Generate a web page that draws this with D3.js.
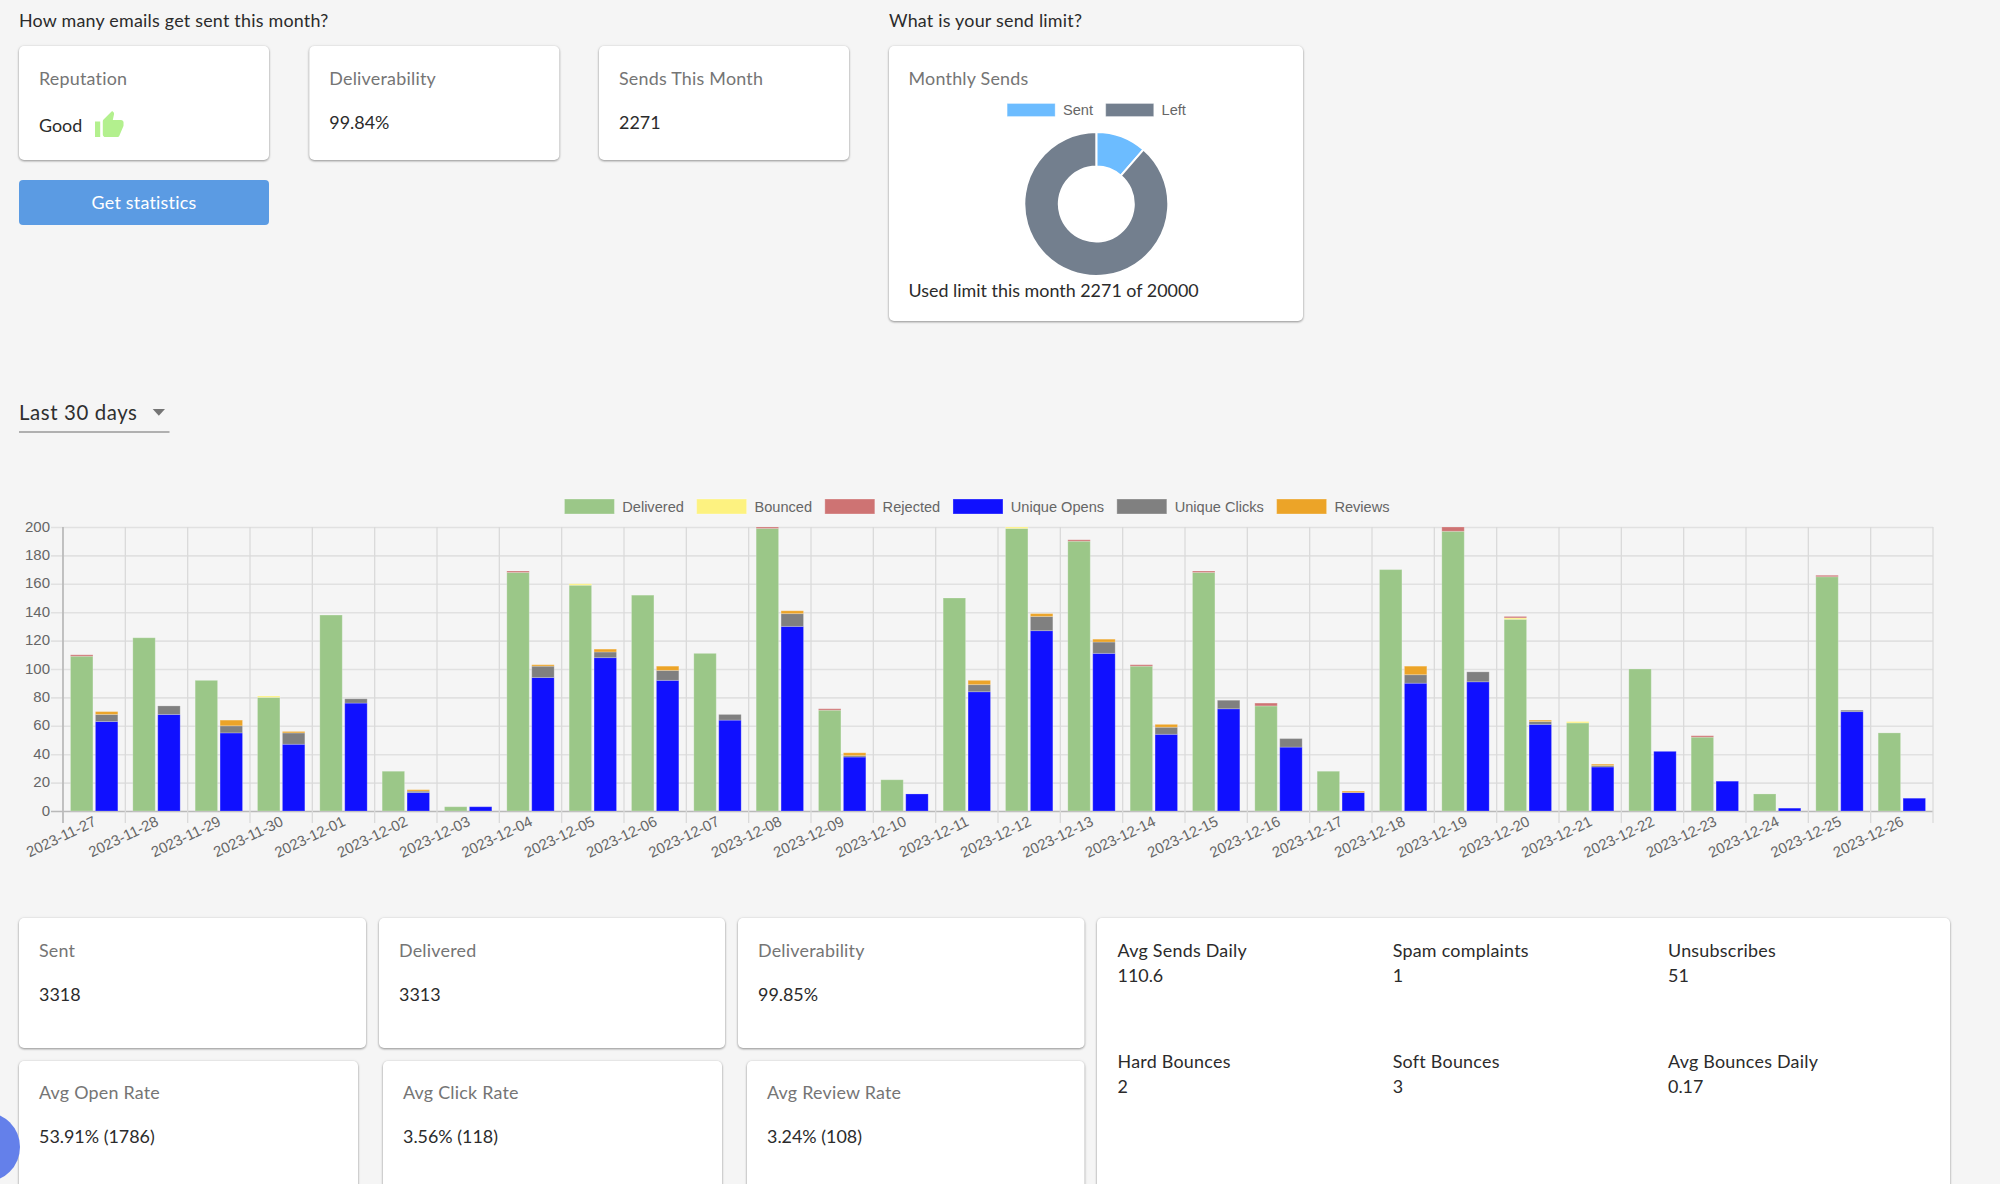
<!DOCTYPE html>
<html><head><meta charset="utf-8">
<style>html,body{margin:0;padding:0;background:#f5f5f5;overflow:hidden}svg{display:block}</style>
<script src="https://cdn.jsdelivr.net/npm/d3@7"></script></head><body>
<svg id="c" width="2000" height="1184"></svg>
<script>
const dates=["2023-11-27","2023-11-28","2023-11-29","2023-11-30","2023-12-01","2023-12-02","2023-12-03","2023-12-04","2023-12-05","2023-12-06","2023-12-07","2023-12-08","2023-12-09","2023-12-10","2023-12-11","2023-12-12","2023-12-13","2023-12-14","2023-12-15","2023-12-16","2023-12-17","2023-12-18","2023-12-19","2023-12-20","2023-12-21","2023-12-22","2023-12-23","2023-12-24","2023-12-25","2023-12-26"];
const delivered=[109,122,92,80,138,28,3,168,159,152,111,199,71,22,150,199,190,102,168,74,28,170,197,135,62,100,52,12,165,55];
const bounced=[0,0,0,1,0,0,0,0,1,0,0,0,0,0,0,1,0,0,0,0,0,0,0,1,1,0,0,0,0,0];
const rejected=[1,0,0,0,0,0,0,1,0,0,0,1,1,0,0,0,1,1,1,2,0,0,3,1,0,0,1,0,1,0];
const uniqueOpens=[63,68,55,47,76,13,3,94,108,92,64,130,38,12,84,127,111,54,72,45,13,90,91,61,31,42,21,2,70,9];
const uniqueClicks=[5,6,5,8,3,1,0,8,4,7,4,9,1,0,5,10,8,5,6,6,0,6,7,2,1,0,0,0,1,0];
const reviews=[2,0,4,1,0,1,0,1,2,3,0,2,2,0,3,2,2,2,0,0,1,6,0,1,1,0,0,0,0,0];
const seriesNames=["Delivered","Bounced","Rejected","Unique Opens","Unique Clicks","Reviews"];
const seriesColors=["#9bc788","#fdf280","#ce7373","#1010ff","#808080","#eca428"];
const donutLabels=["Sent","Left"];
const donutValues=[2271,17729];
const donutColors=["#6cbcff","#737f8e"];
const yTicks=[0,20,40,60,80,100,120,140,160,180,200];

const svg=d3.select("#c");
const UI="Lato, 'Noto Sans', sans-serif", CH="'Liberation Sans', Arial, sans-serif";
const GRAY="#757575", DARK="#2b2b2b";
const txt=(x,y,s,o={})=>svg.append("text").attr("x",x).attr("y",y).attr("dy",".35em")
  .attr("font-family",o.font||UI).attr("font-size",o.size||17.9).attr("fill",o.fill||DARK)
  .attr("letter-spacing",o.ls===undefined?0.22:o.ls).attr("text-anchor",o.anchor||"start").text(s);
const card=(x,y,w,h)=>svg.append("rect").attr("x",x).attr("y",y).attr("width",w).attr("height",h).attr("rx",5)
  .attr("fill","#fff").style("filter","drop-shadow(0 1.5px 1px rgba(0,0,0,.38)) drop-shadow(0 0 1.5px rgba(0,0,0,.08))");

// top section
txt(19,21,"How many emails get sent this month?");
txt(889,21,"What is your send limit?");
[[19,"Reputation","Good"],[309.3,"Deliverability","99.84%"],[599,"Sends This Month","2271"]].forEach(([x,t,v],i)=>{
  card(x,46,250,114);
  txt(x+20,79,t,{fill:GRAY,ls:0.22});
  txt(x+20,i?123:126,v,{ls:0});
});
svg.append("path").attr("fill","#b3f08e").attr("transform","translate(93.7,109.7) scale(1.3)")
  .attr("d","M1 21h4V9H1v12zm22-11c0-1.1-.9-2-2-2h-6.31l.95-4.57.03-.32c0-.41-.17-.79-.44-1.06L14.17 1 7.59 7.59C7.22 7.95 7 8.45 7 9v10c0 1.1.9 2 2 2h9c.83 0 1.54-.5 1.8-1.22l3.02-7.05c.08-.23.13-.47.13-.73v-2z");
svg.append("rect").attr("x",19).attr("y",180).attr("width",250).attr("height",45).attr("rx",4).attr("fill","#5b9be3");
txt(144,203,"Get statistics",{fill:"#fff",anchor:"middle"});

// donut card
card(889,46,414,275);
txt(908.5,79,"Monthly Sends",{fill:GRAY,ls:0.22});
txt(908.5,290.6,"Used limit this month 2271 of 20000",{ls:0});
const pie=d3.pie().sort(null)(donutValues);
const arc=d3.arc().innerRadius(37.5).outerRadius(72);
const dg=svg.append("g").attr("transform","translate(1096.3,204)");
dg.selectAll("path").data(pie).join("path").attr("d",arc).attr("fill",(d,i)=>donutColors[i]).attr("stroke","#fff").attr("stroke-width",2);
function legend(names,colors,cx,cy,bw,bh){
  const g=svg.append("g");
  const items=g.selectAll("g").data(names).join("g");
  items.append("rect").attr("width",bw).attr("height",bh).attr("y",cy-bh/2).attr("fill",(d,i)=>colors[i]).attr("stroke","rgba(255,255,255,.3)");
  const t=items.append("text").attr("x",bw+7.8).attr("y",cy).attr("dy",".35em").attr("font-family",CH).attr("font-size",14.6).attr("fill","#666").text(d=>d);
  const widths=t.nodes().map(n=>n.getComputedTextLength()+bw+7.8);
  const total=d3.sum(widths)+12.75*(names.length-1);
  let x=cx-total/2;
  items.attr("transform",(d,i)=>{const p=x;x+=widths[i]+12.75;return `translate(${p},0)`;});
}
legend(donutLabels,donutColors,1096.5,110,48,13);

// dropdown
txt(19,413,"Last 30 days",{size:20.4,fill:"#2f2f2f",ls:0.6});
svg.append("path").attr("d",d3.line()([[152.7,409],[165,409],[158.85,415.7]])+"Z").attr("fill","#757575");
svg.append("line").attr("x1",19).attr("x2",169.5).attr("y1",432).attr("y2",432).attr("stroke","#999").attr("stroke-width",1.6);

// chart
const X0=63,X1=1933,Y0=811,Y1=527;
const x=d3.scaleBand().domain(dates).range([X0,X1]);
const y=d3.scaleLinear().domain([0,200]).range([Y0,Y1]);
const cat=x.bandwidth(),groupW=cat*0.8,barW=groupW/2*0.9;
const gridC="#dadada";
const gy=svg.append("g").attr("transform",`translate(${X0},0)`)
  .call(d3.axisLeft(y).tickValues(yTicks).tickSize(12).tickPadding(1).tickSizeOuter(0));
gy.select(".domain").remove();
gy.selectAll("line").attr("x1",-12).attr("x2",X1-X0).attr("stroke",d=>d===0?"#b9b9b9":"#e1e1e1").attr("stroke-width",1.6);
gy.selectAll("text").attr("font-family",CH).attr("font-size",15).attr("fill","#666").attr("dy",".27em");
const gx=svg.append("g").attr("transform",`translate(0,${Y0})`)
  .call(d3.axisBottom(x).tickSize(12).tickSizeOuter(0));
gx.select(".domain").remove();
gx.selectAll("line").attr("x1",-cat/2).attr("x2",-cat/2).attr("y1",-(Y0-Y1)).attr("y2",12).attr("stroke",(d,i)=>i===0?"#bbb":gridC).attr("stroke-width",(d,i)=>i===0?1.8:1.3);
gx.append("line").attr("x1",X1).attr("x2",X1).attr("y1",-(Y0-Y1)).attr("y2",12).attr("stroke",gridC).attr("stroke-width",1.3);
gx.selectAll("text").attr("font-family",CH).attr("font-size",14.9).attr("fill","#666")
  .attr("text-anchor","end").attr("y",0).attr("dy",0)
  .attr("transform","translate(3,14) rotate(-25.7)");

const rows=dates.map((d,i)=>({d,Delivered:delivered[i],Bounced:bounced[i],Rejected:rejected[i],"Unique Opens":uniqueOpens[i],"Unique Clicks":uniqueClicks[i],Reviews:reviews[i]}));
const stackA=d3.stack().keys(seriesNames.slice(0,3))(rows);
const stackB=d3.stack().keys(seriesNames.slice(3))(rows);
[stackA,stackB].forEach((st,k)=>{
  st.forEach(s=>{
    svg.append("g").selectAll("rect").data(s.filter(p=>p[1]>p[0])).join("rect")
      .attr("x",p=>x(p.data.d)+cat*0.1+k*groupW/2+(groupW/2-barW)/2).attr("width",barW)
      .attr("y",p=>y(p[1])).attr("height",p=>y(p[0])-y(p[1]))
      .attr("fill",seriesColors[seriesNames.indexOf(s.key)])
      .attr("stroke","rgba(255,255,255,.22)").attr("stroke-width",1);
  });
});
legend(seriesNames,seriesColors,977,506.5,50,15);

// bottom cards
[[19,347,"Sent","3318"],[379,346,"Delivered","3313"],[738,346.5,"Deliverability","99.85%"]].forEach(([x,w,t,v])=>{
  card(x,918,w,130);txt(x+20,950.7,t,{fill:GRAY,ls:0.22});txt(x+20,994.7,v,{ls:0});
});
[[19,339,"Avg Open Rate","53.91% (1786)"],[383,339,"Avg Click Rate","3.56% (118)"],[747,337.5,"Avg Review Rate","3.24% (108)"]].forEach(([x,w,t,v])=>{
  card(x,1061,w,180);txt(x+20,1093,t,{fill:GRAY,ls:0.22});txt(x+20,1137,v,{ls:0});
});
card(1097,918,853,320);
[[1117.5,951,"Avg Sends Daily","110.6"],[1392.7,951,"Spam complaints","1"],[1668,951,"Unsubscribes","51"],
 [1117.5,1062,"Hard Bounces","2"],[1392.7,1062,"Soft Bounces","3"],[1668,1062,"Avg Bounces Daily","0.17"]].forEach(([x,y,t,v])=>{
  txt(x,y,t,{ls:0.25});txt(x,y+24.5,v,{ls:0});
});
svg.append("circle").attr("cx",-15).attr("cy",1147).attr("r",35).attr("fill","#6480ea");
</script></body></html>
